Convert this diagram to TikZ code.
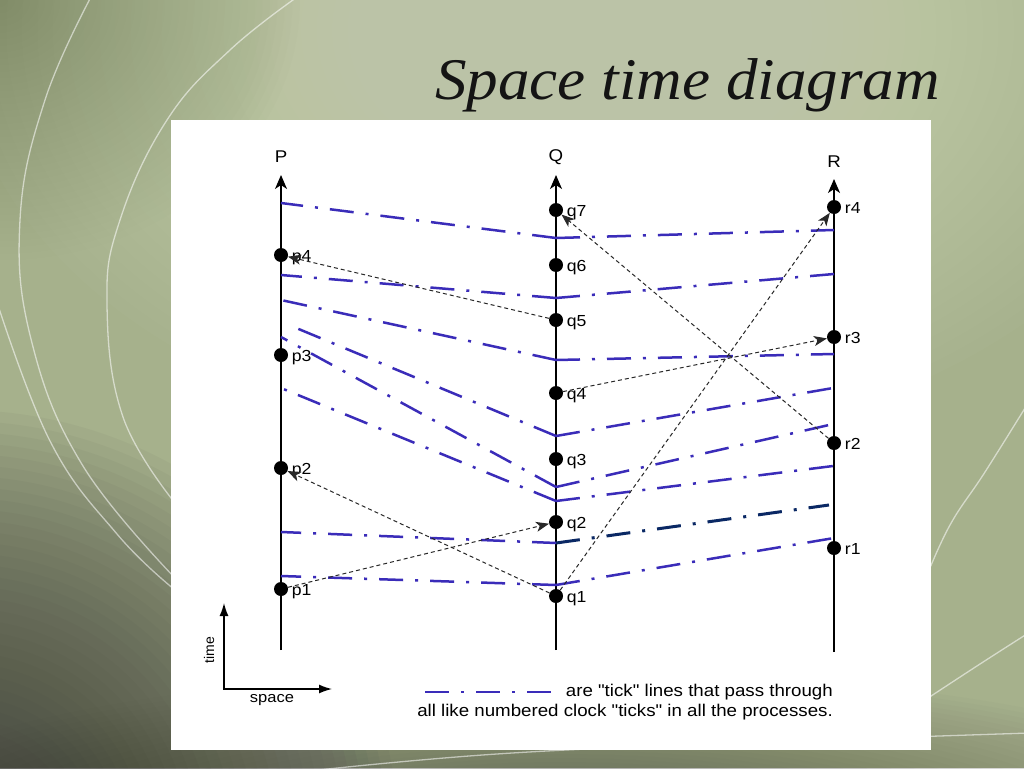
\documentclass[tikz,border=0pt]{standalone}
\usepackage{fontspec}
\usetikzlibrary{arrows.meta}
\newfontfamily\diagfont[FakeStretch=1.1]{Liberation Sans}
\newfontfamily\plainsans{Liberation Sans}
\newfontfamily\titlefont[FakeStretch=1.07]{Liberation Serif}
\definecolor{tickblue}{RGB}{58,44,185}
\definecolor{navytick}{RGB}{10,40,100}
\definecolor{msggray}{RGB}{40,40,40}
\definecolor{bgbase}{RGB}{166,177,140}
\definecolor{bglight}{RGB}{212,220,192}
\definecolor{bgdark}{RGB}{60,60,56}
\definecolor{bgolive}{RGB}{122,134,98}
\begin{document}
\begin{tikzpicture}[x=1pt,y=-1pt,
  proc/.style={line width=1.5pt, black, -{Stealth[length=14pt,width=12pt,inset=4pt]}},
  tickln/.style={tickblue, line width=2.5pt, dash pattern=on 24pt off 12pt on 3pt off 12pt},
  navyln/.style={navytick, line width=3pt, dash pattern=on 24pt off 12pt on 3pt off 12pt},
  msg/.style={msggray, line width=1pt, dash pattern=on 4pt off 3pt, -{Stealth[length=13pt,width=10pt,inset=3.5pt]}},
  evdot/.style={circle, fill=black, minimum size=14pt, inner sep=0pt},
  lab/.style={font=\diagfont\fontsize{16}{18}\selectfont, inner sep=0pt, anchor=base west},
  plab/.style={font=\diagfont\fontsize{17}{19}\selectfont, inner sep=0pt},
  legend/.style={font=\diagfont\fontsize{17}{19}\selectfont, inner sep=0pt, anchor=east},
  bgarc/.style={white, opacity=0.55, line width=1.3pt},
  axis/.style={line width=1.4pt, black, {Latex[length=13pt,width=9pt]}-{Latex[length=13pt,width=9pt]}}
]
\useasboundingbox (0,0) rectangle (1024,768);
% ---- slide background ----
\fill[bgbase] (0,0) rectangle (1024,768);
\begin{scope}
\clip (0,0) rectangle (1024,768);
\foreach \k in {40,39,...,1}{
  \fill[bglight, opacity=0.038] (580,30) ellipse [x radius={15.5*\k}, y radius={10.5*\k}];
}
\foreach \k in {40,39,...,1}{
  \fill[bgolive, opacity=0.018] (0,0) ellipse [x radius={7.5*\k}, y radius={6.5*\k}];
}
\foreach \k in {40,39,...,1}{
  \fill[bgdark, opacity=0.045] (-40,850) ellipse [x radius={11*\k}, y radius={11*\k}];
}
\foreach \k in {40,39,...,1}{
  \fill[bgdark, opacity=0.02] (560,830) ellipse [x radius={18*\k}, y radius={4*\k}];
}
\end{scope}
\draw[bgarc] plot[smooth, tension=0.7] coordinates {(92,-5) (45,100) (20,220) (32,343) (83,466) (175,578)};
\draw[bgarc] plot[smooth, tension=0.7] coordinates {(300,-5) (230,50) (167,120) (120,220) (107,304) (123,417) (175,503)};
\draw[bgarc] plot[smooth, tension=0.7] coordinates {(-5,296) (50,441) (117,534) (175,590)};
\draw[bgarc] plot[smooth, tension=0.7] coordinates {(1030,400) (985,472) (950,525) (925,580)};
\draw[bgarc] plot[smooth, tension=0.7] coordinates {(1030,632) (980,664) (925,700)};
\draw[bgarc] plot[smooth, tension=0.7] coordinates {(300,772) (512,753) (800,741) (1030,733)};
% ---- title ----
\node[anchor=base west, inner sep=0pt, font=\titlefont\itshape\fontsize{59}{61}\selectfont, text=black!92] (title) at (435,99) {Space time diagram};
% ---- white panel ----
\fill[white] (171,120) rectangle (931,750);
% ---- process lines ----
\coordinate (Pb) at (281,650); \coordinate (Pt) at (281,175);
\coordinate (Qb) at (556,650); \coordinate (Qt) at (556,175);
\coordinate (Rb) at (834,652); \coordinate (Rt) at (834,179);
\draw[proc] (Pb) -- (Pt);
\draw[proc] (Qb) -- (Qt);
\draw[proc] (Rb) -- (Rt);
\node[plab] (Plab) at (281,157) {P};
\node[plab] (Qlab) at (556,157) {Q};
\node[plab] (Rlab) at (834,162) {R};
% ---- tick lines ----
\foreach \i/\yp/\xp/\yq/\yr/\xr in {1/203/281/238/230/834, 2/275/281/298/274/834, 3/300/281/360/354/834, 4/325/289/436/388/833, 5/337/281/487/425/829, 6/388/281/501/466/833, 8/576/281/585/538/834}{
  \coordinate (tp\i) at (\xp,\yp);
  \coordinate (tq\i) at (556,\yq);
  \coordinate (tr\i) at (\xr,\yr);
  \draw[tickln] (tq\i) -- (tp\i);
  \draw[tickln] (tq\i) -- (tr\i);
}
\coordinate (tp7) at (281,532);
\coordinate (tq7) at (556,543);
\coordinate (tr7) at (829,505);
\draw[tickln] (tq7) -- (tp7);
\draw[navyln] (tq7) -- (tr7);
% ---- events ----
\node[evdot] (p4) at (281,255) {};
\node[evdot] (p3) at (281,355) {};
\node[evdot] (p2) at (281,468) {};
\node[evdot] (p1) at (281,589) {};
\node[evdot] (q7) at (556,210) {};
\node[evdot] (q6) at (556,265) {};
\node[evdot] (q5) at (556,320) {};
\node[evdot] (q4) at (556,393) {};
\node[evdot] (q3) at (556,459) {};
\node[evdot] (q2) at (556,522) {};
\node[evdot] (q1) at (556,596) {};
\node[evdot] (r4) at (834,207) {};
\node[evdot] (r3) at (834,337) {};
\node[evdot] (r2) at (834,443) {};
\node[evdot] (r1) at (834,548) {};
\foreach \n in {p4,p3,p2,p1,q7,q6,q5,q4,q3,q2,q1,r4,r3,r2,r1}{
  \node[lab] (\n l) at ([xshift=3.5pt, yshift=-6pt]\n.east) {\n};
}
% ---- messages ----
\draw[msg] (p1) -- (q2);
\draw[msg] (q1) -- (p2);
\draw[msg] (q1) -- (r4);
\draw[msg] (q5) -- (p4);
\draw[msg] (r2) -- (q7);
\draw[msg] (q4) -- (r3);
% ---- axes ----
\coordinate (ax0) at (224,689);
\coordinate (axt) at (224,603);
\coordinate (axs) at (332,689);
\draw[axis] (axt) -- (ax0) -- (axs);
\node[rotate=90, inner sep=0pt, font=\plainsans\fontsize{14}{16}\selectfont] (timelab) at (209,650) {time};
\node[inner sep=0pt, font=\diagfont\fontsize{15}{17}\selectfont] (spacelab) at (272,700) {space};
% ---- legend ----
\coordinate (ls) at (425,692);
\coordinate (le) at (553,692);
\draw[tickln] (ls) -- (le);
\node[legend] (leg1) at (833,692) {are "tick" lines that pass through};
\node[legend] (leg2) at (833,712) {all like numbered clock "ticks" in all the processes.};
\end{tikzpicture}
\end{document}
